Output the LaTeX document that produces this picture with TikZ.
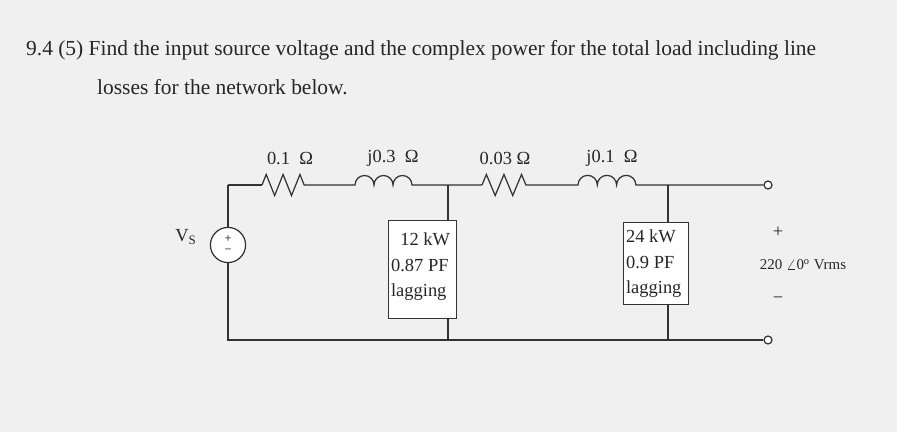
\documentclass[tikz,border=0pt]{standalone}
\usepackage{fontspec}
\setmainfont{Liberation Serif}
\usetikzlibrary{decorations.pathmorphing}
\begin{document}
\begin{tikzpicture}[x=0.02cm,y=-0.02cm,
  w/.style={line width=0.7pt,black!80},
  lbl/.style={font=\fontsize{10.5}{12.5}\selectfont,text=black!85},
  blbl/.style={font=\fontsize{10.5}{14.5}\selectfont,text=black!85,anchor=north west,align=left,inner sep=1pt},
  term/.style={circle,draw=black!80,fill=white,inner sep=1.6pt,line width=0.7pt}]
\fill[black!6] (0,0) rectangle (897,432);
\useasboundingbox (0,0) rectangle (897,432);
\node[anchor=west,font=\fontsize{12.2}{14}\selectfont,text=black!85] (t1) at (20,50) {9.4 (5) Find the input source voltage and the complex power for the total load including line};
\node[anchor=west,font=\fontsize{12.2}{14}\selectfont,text=black!85] (t2) at (91,87) {losses for the network below.};
\node[lbl] (l1) at (290,158) {0.1 \ Ω};
\node[lbl] (l2) at (393,158) {j0.3 \ Ω};
\node[lbl] (l3) at (505,158) {0.03 Ω};
\node[lbl] (l4) at (612,158) {j0.1 \ Ω};
\coordinate (tl) at (228,185); \coordinate (bl) at (228,340);
\node[term] (tr) at (768,185) {};
\node[term] (br) at (768,340) {};
\coordinate (r1a) at (262,185); \coordinate (r1b) at (310,185);
\coordinate (i1a) at (355,185);
\coordinate (r2a) at (482,185); \coordinate (r2b) at (532,185);
\coordinate (i2a) at (578,185);
\draw[w] (tl) -- (r1a);
\draw[w,decorate,decoration={zigzag,segment length=9.6,amplitude=6}] (r1a) -- (r1b);
\draw[w] (r1b) -- (i1a) arc[start angle=180,end angle=0,radius=0.19cm] arc[start angle=180,end angle=0,radius=0.19cm] arc[start angle=180,end angle=0,radius=0.19cm] -- (r2a);
\draw[w,decorate,decoration={zigzag,segment length=10,amplitude=6}] (r2a) -- (r2b);
\draw[w] (r2b) -- (i2a) arc[start angle=180,end angle=0,radius=0.193cm] arc[start angle=180,end angle=0,radius=0.193cm] arc[start angle=180,end angle=0,radius=0.193cm] -- (tr);
\node[circle,draw=black!80,line width=0.7pt,fill=white,minimum size=20,inner sep=0] (src) at (228,245) {};
\node[font=\fontsize{7}{7}\selectfont,inner sep=0] (sp) at (228,239) {+};
\node[font=\fontsize{7}{7}\selectfont,inner sep=0] (sm) at (228,251.5) {−};
\draw[w] (tl) -- (src.north);
\draw[w] (src.south) -- (bl) -- (br);
\node[lbl] (vs) at (186,237) {V\textsubscript{S}};
\node[draw=black!80,line width=0.7pt,fill=white,minimum width=68*0.02cm,minimum height=98*0.02cm,anchor=north west] (b1) at (388,220) {};
\node[blbl] (b1t) at (389,231) {\ \ 12 kW\\0.87 PF\\lagging};
\node[draw=black!80,line width=0.7pt,fill=white,minimum width=65*0.02cm,minimum height=82*0.02cm,anchor=north west] (b2) at (623,222) {};
\node[blbl] (b2t) at (624,228) {24 kW\\0.9 PF\\lagging};
\draw[w] (448,185) -- (b1.north -| 448,0); \draw[w] (b1.south -| 448,0) -- (448,340);
\draw[w] (668,185) -- (b2.north -| 668,0); \draw[w] (b2.south -| 668,0) -- (668,340);
\node[lbl] (plus) at (778,232) {+};
\node[font=\fontsize{8.5}{10}\selectfont,text=black!85] (v) at (803,265) {220 $\angle$0\textsuperscript{o} Vrms};
\node[lbl] (minus) at (778,300) {−};
\end{tikzpicture}
\end{document}
